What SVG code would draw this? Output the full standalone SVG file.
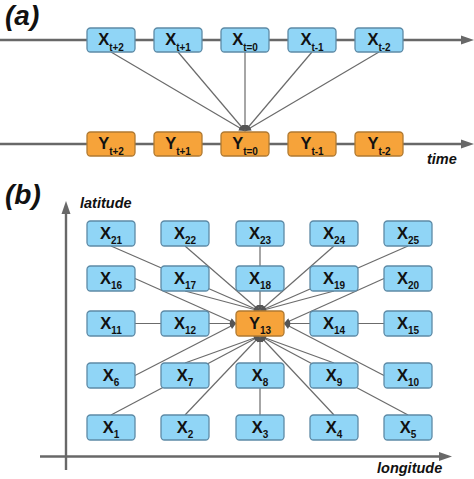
<svg xmlns="http://www.w3.org/2000/svg" width="474" height="479" viewBox="0 0 474 479">
<style>
.bx{fill:#90d5f6;stroke:#5d8aa6;stroke-width:1.3}
.by{fill:#f6a33a;stroke:#b07a32;stroke-width:1.3}
.t{font-family:"Liberation Sans",Arial,sans-serif;font-size:16.5px;font-weight:bold;fill:#111;text-anchor:middle}
.s{font-size:10px}
.ca{stroke:#6b6b6b;stroke-width:1.2;fill:none;marker-end:url(#ah)}
.ax{stroke:#686868;stroke-width:2.4;fill:none}
.lab{font-family:"Liberation Sans",Arial,sans-serif;font-weight:bold;font-style:italic;fill:#111}
</style>
<defs>
<marker id="ah" viewBox="0 0 10 10" refX="10" refY="5" markerWidth="7" markerHeight="6" orient="auto" markerUnits="userSpaceOnUse">
<path d="M0,0 L10,5 L0,10 z" fill="#555"/>
</marker>
</defs>
<rect width="474" height="479" fill="#fff"/>

<text class="lab" x="5" y="25" font-size="28">(a)</text>
<text class="lab" x="5" y="204" font-size="28">(b)</text>
<text class="lab" x="427" y="164" font-size="14.5">time</text>
<text class="lab" x="80" y="208" font-size="14.5">latitude</text>
<text class="lab" x="377" y="473" font-size="14.5">longitude</text>

<g id="connectors">
<line class="ax" x1="0" y1="40" x2="463" y2="40"/>
<polygon points="461,35.5 474,40 461,44.5" fill="#686868"/>
<line class="ax" x1="0" y1="144" x2="463" y2="144"/>
<polygon points="461,139.5 474,144 461,148.5" fill="#686868"/>
<line class="ca" x1="111" y1="52" x2="245" y2="131"/>
<line class="ca" x1="178" y1="52" x2="245" y2="131"/>
<line class="ca" x1="245" y1="52" x2="245" y2="131"/>
<line class="ca" x1="312" y1="52" x2="245" y2="131"/>
<line class="ca" x1="379" y1="52" x2="245" y2="131"/>
<line class="ax" x1="66" y1="470" x2="66" y2="212"/>
<polygon points="61.5,214 66,201 70.5,214" fill="#686868"/>
<line class="ax" x1="40" y1="456.5" x2="441" y2="456.5"/>
<polygon points="439,452 452,456.5 439,461" fill="#686868"/>
<line class="ca" x1="111" y1="246" x2="260" y2="311"/>
<line class="ca" x1="185" y1="246" x2="260" y2="311"/>
<line class="ca" x1="260" y1="246" x2="260" y2="311"/>
<line class="ca" x1="334" y1="246" x2="260" y2="311"/>
<line class="ca" x1="408" y1="246" x2="260" y2="311"/>
<line class="ca" x1="185" y1="291" x2="260" y2="311"/>
<line class="ca" x1="334" y1="291" x2="260" y2="311"/>
<line class="ca" x1="135" y1="278.5" x2="236" y2="323.5"/>
<line class="ca" x1="384" y1="278.5" x2="284" y2="323.5"/>
<line class="ca" x1="135" y1="323.5" x2="236" y2="323.5"/>
<line class="ca" x1="384" y1="323.5" x2="284" y2="323.5"/>
<line class="ca" x1="135" y1="375.5" x2="236" y2="323.5"/>
<line class="ca" x1="384" y1="375.5" x2="284" y2="323.5"/>
<line class="ca" x1="185" y1="363" x2="260" y2="336"/>
<line class="ca" x1="334" y1="363" x2="260" y2="336"/>
<line class="ca" x1="111" y1="415" x2="260" y2="336"/>
<line class="ca" x1="185" y1="415" x2="260" y2="336"/>
<line class="ca" x1="260" y1="415" x2="260" y2="336"/>
<line class="ca" x1="334" y1="415" x2="260" y2="336"/>
<line class="ca" x1="408" y1="415" x2="260" y2="336"/>
</g>

<g id="xa1"><rect class="bx" x="87" y="28" width="48" height="24" rx="3.5"/><text class="t" x="111" y="45">X<tspan class="s" dy="5.5">t+2</tspan></text></g>
<g id="xa2"><rect class="bx" x="154" y="28" width="48" height="24" rx="3.5"/><text class="t" x="178" y="45">X<tspan class="s" dy="5.5">t+1</tspan></text></g>
<g id="xa3"><rect class="bx" x="221" y="28" width="48" height="24" rx="3.5"/><text class="t" x="245" y="45">X<tspan class="s" dy="5.5">t=0</tspan></text></g>
<g id="xa4"><rect class="bx" x="288" y="28" width="48" height="24" rx="3.5"/><text class="t" x="312" y="45">X<tspan class="s" dy="5.5">t-1</tspan></text></g>
<g id="xa5"><rect class="bx" x="355" y="28" width="48" height="24" rx="3.5"/><text class="t" x="379" y="45">X<tspan class="s" dy="5.5">t-2</tspan></text></g>
<g id="ya1"><rect class="by" x="87" y="132" width="48" height="24" rx="3.5"/><text class="t" x="111" y="149">Y<tspan class="s" dy="5.5">t+2</tspan></text></g>
<g id="ya2"><rect class="by" x="154" y="132" width="48" height="24" rx="3.5"/><text class="t" x="178" y="149">Y<tspan class="s" dy="5.5">t+1</tspan></text></g>
<g id="ya3"><rect class="by" x="221" y="132" width="48" height="24" rx="3.5"/><text class="t" x="245" y="149">Y<tspan class="s" dy="5.5">t=0</tspan></text></g>
<g id="ya4"><rect class="by" x="288" y="132" width="48" height="24" rx="3.5"/><text class="t" x="312" y="149">Y<tspan class="s" dy="5.5">t-1</tspan></text></g>
<g id="ya5"><rect class="by" x="355" y="132" width="48" height="24" rx="3.5"/><text class="t" x="379" y="149">Y<tspan class="s" dy="5.5">t-2</tspan></text></g>

<g id="x21"><rect class="bx" x="87" y="221" width="48" height="25" rx="3.5"/><text class="t" x="111" y="238.5">X<tspan class="s" dy="5.5">21</tspan></text></g>
<g id="x22"><rect class="bx" x="161" y="221" width="48" height="25" rx="3.5"/><text class="t" x="185" y="238.5">X<tspan class="s" dy="5.5">22</tspan></text></g>
<g id="x23"><rect class="bx" x="236" y="221" width="48" height="25" rx="3.5"/><text class="t" x="260" y="238.5">X<tspan class="s" dy="5.5">23</tspan></text></g>
<g id="x24"><rect class="bx" x="310" y="221" width="48" height="25" rx="3.5"/><text class="t" x="334" y="238.5">X<tspan class="s" dy="5.5">24</tspan></text></g>
<g id="x25"><rect class="bx" x="384" y="221" width="48" height="25" rx="3.5"/><text class="t" x="408" y="238.5">X<tspan class="s" dy="5.5">25</tspan></text></g>

<g id="x16"><rect class="bx" x="87" y="266" width="48" height="25" rx="3.5"/><text class="t" x="111" y="283.5">X<tspan class="s" dy="5.5">16</tspan></text></g>
<g id="x17"><rect class="bx" x="161" y="266" width="48" height="25" rx="3.5"/><text class="t" x="185" y="283.5">X<tspan class="s" dy="5.5">17</tspan></text></g>
<g id="x18"><rect class="bx" x="236" y="266" width="48" height="25" rx="3.5"/><text class="t" x="260" y="283.5">X<tspan class="s" dy="5.5">18</tspan></text></g>
<g id="x19"><rect class="bx" x="310" y="266" width="48" height="25" rx="3.5"/><text class="t" x="334" y="283.5">X<tspan class="s" dy="5.5">19</tspan></text></g>
<g id="x20"><rect class="bx" x="384" y="266" width="48" height="25" rx="3.5"/><text class="t" x="408" y="283.5">X<tspan class="s" dy="5.5">20</tspan></text></g>

<g id="x11"><rect class="bx" x="87" y="311" width="48" height="25" rx="3.5"/><text class="t" x="111" y="328.5">X<tspan class="s" dy="5.5">11</tspan></text></g>
<g id="x12"><rect class="bx" x="161" y="311" width="48" height="25" rx="3.5"/><text class="t" x="185" y="328.5">X<tspan class="s" dy="5.5">12</tspan></text></g>
<g id="y13"><rect class="by" x="236" y="311" width="48" height="25" rx="3.5"/><text class="t" x="260" y="328.5">Y<tspan class="s" dy="5.5">13</tspan></text></g>
<g id="x14"><rect class="bx" x="310" y="311" width="48" height="25" rx="3.5"/><text class="t" x="334" y="328.5">X<tspan class="s" dy="5.5">14</tspan></text></g>
<g id="x15"><rect class="bx" x="384" y="311" width="48" height="25" rx="3.5"/><text class="t" x="408" y="328.5">X<tspan class="s" dy="5.5">15</tspan></text></g>

<g id="x6"><rect class="bx" x="87" y="363" width="48" height="25" rx="3.5"/><text class="t" x="111" y="380.5">X<tspan class="s" dy="5.5">6</tspan></text></g>
<g id="x7"><rect class="bx" x="161" y="363" width="48" height="25" rx="3.5"/><text class="t" x="185" y="380.5">X<tspan class="s" dy="5.5">7</tspan></text></g>
<g id="x8"><rect class="bx" x="236" y="363" width="48" height="25" rx="3.5"/><text class="t" x="260" y="380.5">X<tspan class="s" dy="5.5">8</tspan></text></g>
<g id="x9"><rect class="bx" x="310" y="363" width="48" height="25" rx="3.5"/><text class="t" x="334" y="380.5">X<tspan class="s" dy="5.5">9</tspan></text></g>
<g id="x10"><rect class="bx" x="384" y="363" width="48" height="25" rx="3.5"/><text class="t" x="408" y="380.5">X<tspan class="s" dy="5.5">10</tspan></text></g>

<g id="x1"><rect class="bx" x="87" y="415" width="48" height="25" rx="3.5"/><text class="t" x="111" y="432.5">X<tspan class="s" dy="5.5">1</tspan></text></g>
<g id="x2"><rect class="bx" x="161" y="415" width="48" height="25" rx="3.5"/><text class="t" x="185" y="432.5">X<tspan class="s" dy="5.5">2</tspan></text></g>
<g id="x3"><rect class="bx" x="236" y="415" width="48" height="25" rx="3.5"/><text class="t" x="260" y="432.5">X<tspan class="s" dy="5.5">3</tspan></text></g>
<g id="x4"><rect class="bx" x="310" y="415" width="48" height="25" rx="3.5"/><text class="t" x="334" y="432.5">X<tspan class="s" dy="5.5">4</tspan></text></g>
<g id="x5"><rect class="bx" x="384" y="415" width="48" height="25" rx="3.5"/><text class="t" x="408" y="432.5">X<tspan class="s" dy="5.5">5</tspan></text></g>
</svg>
